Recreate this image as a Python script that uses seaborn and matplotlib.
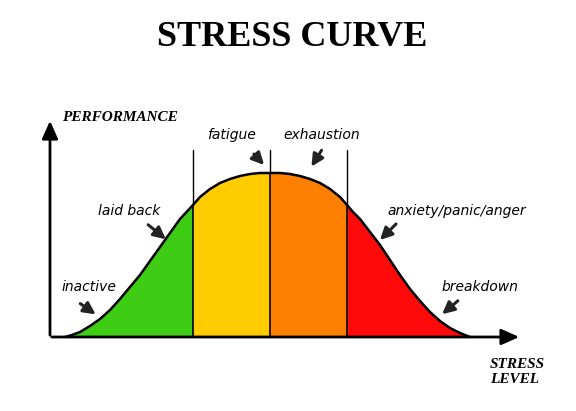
import matplotlib
matplotlib.use("Agg")
import matplotlib.pyplot as plt
import numpy as np
import pandas as pd
import seaborn as sns

# curve (pixel-like units, height above the x axis)
curve_x = [65, 72, 80, 90, 100, 110, 120, 130, 140, 150, 160, 170, 180, 193, 200, 210, 220,
           230, 240, 250, 260, 270, 280, 290, 300, 310, 320, 330, 340, 347, 353, 360, 370,
           380, 390, 400, 410, 420, 430, 440, 450, 460, 470]
curve_h = [0, 2, 5, 11, 18, 27, 38, 50, 62, 76, 90, 104, 118, 132, 140, 148, 154,
           158, 161, 163, 164, 164, 164, 163, 161, 158, 154, 148, 140, 132, 125, 118, 105,
           92, 77, 62, 48, 36, 25, 16, 9, 4, 0]
zone_edges = [65, 193, 270, 347, 470]
zone_colors = ["#3ecc14", "#ffcc00", "#ff8000", "#ff0a0a"]
divider_x = [193, 270, 347]

BASE = 337

sns.set_theme(style="white")
plt.rcParams["font.family"] = ["DejaVu Sans"]
plt.rcParams["text.color"] = "black"

fig = plt.figure(figsize=(5.76, 4.11), dpi=100)
ax = fig.add_axes([0, 0, 1, 1])
ax.set_xlim(0, 576)
ax.set_ylim(411, 0)
ax.axis("off")

df = pd.DataFrame({"x": curve_x, "y": [BASE - h for h in curve_h]})
xs = np.array(curve_x, dtype=float)
ys = df["y"].to_numpy()
for i, c in enumerate(zone_colors):
    lo, hi = zone_edges[i], zone_edges[i + 1]
    m = (xs >= lo) & (xs <= hi)
    ax.fill_between(xs[m], ys[m], BASE, color=c, lw=0)
sns.lineplot(data=df, x="x", y="y", ax=ax, color="black", lw=1.8, sort=False)
for dx in divider_x:
    top = np.interp(dx, xs, ys)
    ax.plot([dx, dx], [top, BASE], color="black", lw=1.2)
    ax.plot([dx, dx], [150, top], color="black", lw=1.0)

# axes with arrowheads
ax.annotate("", xy=(50, 118), xytext=(50, BASE + 1),
            arrowprops=dict(arrowstyle="-|>,head_width=0.4,head_length=0.9", color="black", lw=2))
ax.annotate("", xy=(522, BASE), xytext=(49, BASE),
            arrowprops=dict(arrowstyle="-|>,head_width=0.4,head_length=0.9", color="black", lw=2))

ax.text(292, 38, "STRESS CURVE", ha="center", va="center", fontsize=26,
        fontweight="bold", family="Liberation Serif", color="black")
ax.text(62, 117, "PERFORMANCE", ha="left", va="center", fontsize=11,
        fontweight="bold", style="italic", family="Liberation Serif", color="black")
ax.text(490, 372, "STRESS\nLEVEL", ha="left", va="center", fontsize=11,
        fontweight="bold", style="italic", family="Liberation Serif", linespacing=1.2,
        color="black")

labels = [
    ("inactive", 62, 287, (78, 302), (98, 316)),
    ("laid back", 98, 211, (146, 223), (168, 241)),
    ("fatigue", 231, 135, (252, 152), (266, 167)),
    ("exhaustion", 322, 135, (323, 148), (310, 169)),
    ("anxiety/panic/anger", 457, 211, (398, 222), (378, 242)),
    ("breakdown", 480, 287, (460, 299), (440, 316)),
]
for text, tx, ty, a0, a1 in labels:
    ax.text(tx, ty, text, ha="left" if tx < 200 else "center", va="center",
            fontsize=10, style="italic", color="black")
    ax.annotate("", xy=a1, xytext=a0,
                arrowprops=dict(arrowstyle="-|>,head_width=0.3,head_length=0.6",
                                color="#222222", lw=2.2))

fig.savefig("out.png", dpi=100)
